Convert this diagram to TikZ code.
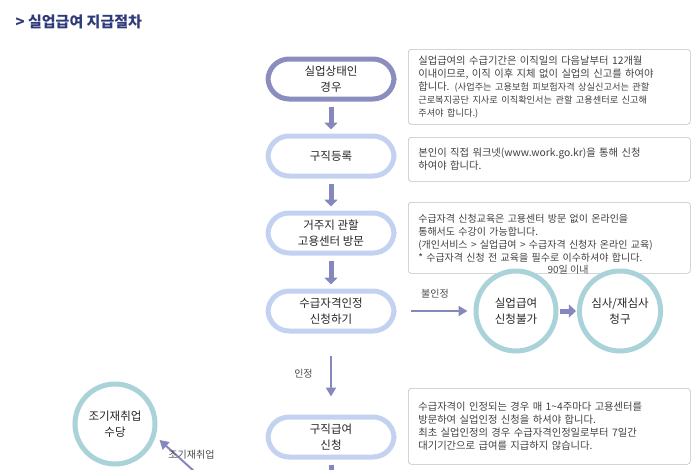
\documentclass[tikz,border=0pt]{standalone}
\usepackage{fontspec}
\setmainfont{Noto Sans CJK KR}
\usetikzlibrary{arrows.meta,shapes.geometric}
\definecolor{navy}{HTML}{2E3A7A}
\definecolor{dark}{HTML}{8A8DBE}
\definecolor{light}{HTML}{C3D2F0}
\definecolor{teal}{HTML}{A9D3D8}
\definecolor{arr}{HTML}{8588BC}
\begin{document}
\begin{tikzpicture}[x=1pt,y=-1pt,
 stadium/.style={draw=light,line width=5pt,fill=white,rounded corners=21pt,minimum width=126pt,minimum height=40pt,align=center,font=\fontsize{11.5}{16}\selectfont,text=black!85},
 infobox/.style={draw=black!25,line width=0.6pt,rounded corners=3pt,anchor=north west,text width=262pt,align=left,font=\fontsize{10.3}{13}\selectfont,text=black!75,inner xsep=10pt},
 circ/.style={draw=teal,line width=5pt,fill=white,ellipse,inner sep=0pt,minimum width=80pt,minimum height=80pt,align=center,font=\fontsize{11.5}{16}\selectfont,text=black!85},
 blockarr/.style={-{Triangle[length=7pt,width=13pt]},line width=5pt,draw=arr},
 thinarr/.style={-{Triangle[length=9pt,width=10pt]},line width=2pt,draw=arr},
 lbl/.style={font=\fontsize{10}{12}\selectfont,text=black!70}]
\useasboundingbox (0,0) rectangle (699,469);
\node[anchor=west,font=\bfseries\fontsize{15}{18}\selectfont,text=navy] (title) at (12,22) {\textgreater\ 실업급여 지급절차};
\node[stadium,draw=dark] (n1) at (331,79) {실업상태인\\경우};
\node[stadium] (n2) at (331,156) {구직등록};
\node[stadium] (n3) at (331,233) {거주지 관할\\고용센터 방문};
\node[stadium] (n4) at (331,311) {수급자격인정\\신청하기};
\node[stadium] (n5) at (331,437) {구직급여\\신청};
\draw[blockarr,shorten <=5pt,shorten >=4pt] (n1.south) -- (n2.north);
\draw[blockarr,shorten <=5pt,shorten >=4pt] (n2.south) -- (n3.north);
\draw[blockarr,shorten <=5pt,shorten >=4pt] (n3.south) -- (n4.north);
\draw[thinarr,shorten <=22pt,shorten >=18pt] (n4.south) -- (n5.north) node[midway,left=14pt,lbl]{인정};
\coordinate (n5b) at (331,475);
\draw[line width=5pt,draw=arr,shorten <=5pt] (n5.south) -- (n5b);
\node[infobox,minimum height=75pt] (b1) at (408,49) {실업급여의 수급기간은 이직일의 다음날부터 12개월\\이내이므로, 이직 이후 지체 없이 실업의 신고를 하여야\\합니다. {\fontsize{9.2}{13}\selectfont (사업주는 고용보험 피보험자격 상실신고서는 관할}\\{\fontsize{9.2}{13}\selectfont 근로복지공단 지사로 이직확인서는 관할 고용센터로 신고해}\\{\fontsize{9.2}{13}\selectfont 주셔야 합니다.)}};
\node[infobox,minimum height=44pt] (b2) at (408,137) {본인이 직접 워크넷(www.work.go.kr)을 통해 신청\\하여야 합니다.};
\node[infobox,minimum height=71pt,font=\fontsize{10}{13}\selectfont] (b3) at (408,202) {수급자격 신청교육은 고용센터 방문 없이 온라인을\\통해서도 수강이 가능합니다.\\(개인서비스 \textgreater\ 실업급여 \textgreater\ 수급자격 신청자 온라인 교육)\\{*} 수급자격 신청 전 교육을 필수로 이수하셔야 합니다.};
\node[infobox,minimum height=76pt] (b4) at (408,388) {수급자격이 인정되는 경우 매 1\textasciitilde4주마다 고용센터를\\방문하여 실업인정 신청을 하셔야 합니다.\\최초 실업인정의 경우 수급자격인정일로부터 7일간\\대기기간으로 급여를 지급하지 않습니다.};
\node[circ] (c1) at (516,311) {실업급여\\신청불가};
\node[circ] (c2) at (620,311) {심사/재심사\\청구};
\node[circ] (c3) at (115,424) {조기재취업\\수당};
\draw[thinarr,shorten <=14pt,shorten >=6pt] (n4.east) -- (c1.west) node[midway,above=8pt,lbl]{불인정};
\draw[blockarr,shorten <=1pt,shorten >=1pt] (c1.east) -- (c2.west);
\node[lbl] (d90) at (568,270) {90일 이내};
\coordinate (s5) at (195,472);
\draw[thinarr] (s5) -- ([shift={(6pt,2pt)}]c3.-25) node[pos=0.1,above=5pt,lbl]{조기재취업};
\end{tikzpicture}
\end{document}
